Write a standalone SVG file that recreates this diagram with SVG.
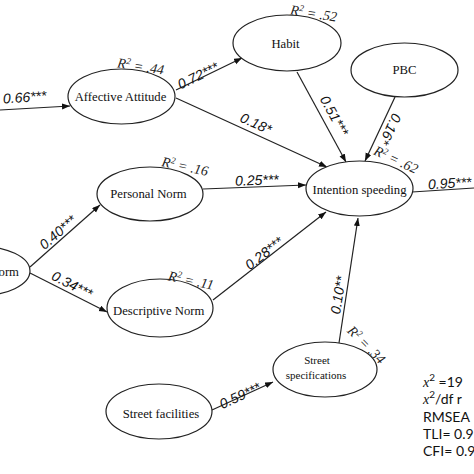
<svg xmlns="http://www.w3.org/2000/svg" width="474" height="474" viewBox="0 0 474 474">
<defs>
<marker id="ah" markerUnits="userSpaceOnUse" markerWidth="9" markerHeight="7" refX="8" refY="3" orient="auto">
<path d="M0,0 L8,3 L0,6 z" fill="#111"/>
</marker>
<style>
.n{fill:#fff;stroke:#222;stroke-width:1.2}
.t{font-family:"Liberation Serif",serif;font-size:12.7px;fill:#111;text-anchor:middle}
.e{stroke:#222;stroke-width:1.2;fill:none}
.a{marker-end:url(#ah)}
.l{font-family:"Liberation Sans",Arial,sans-serif;font-style:italic;font-size:14px;fill:#111;text-anchor:middle}
.r{font-family:"Liberation Serif",serif;font-style:italic;font-size:14px;fill:#222;text-anchor:middle}
.f{font-family:Lato,"Liberation Sans",sans-serif;font-size:14px;fill:#111}
</style>
</defs>
<rect width="474" height="474" fill="#fff"/>
<g id="connectors">
<line class="e a" x1="0" y1="110" x2="70" y2="106"/>
<line class="e a" x1="176" y1="90" x2="242" y2="58"/>
<line class="e a" x1="176" y1="98" x2="327" y2="167"/>
<line class="e a" x1="297" y1="72" x2="346" y2="162"/>
<line class="e a" x1="395" y1="97" x2="365" y2="161"/>
<line class="e a" x1="203" y1="189" x2="306" y2="185"/>
<line class="e a" x1="213" y1="300" x2="326" y2="212"/>
<line class="e a" x1="339" y1="343" x2="358" y2="218"/>
<line class="e a" x1="212" y1="410" x2="273" y2="382"/>
<line class="e a" x1="30" y1="267" x2="100" y2="205"/>
<line class="e a" x1="30" y1="273" x2="107" y2="312"/>
<line class="e" x1="412" y1="192" x2="474" y2="188"/>
<text class="l" transform="translate(25,102) rotate(-4)">0.66***</text>
<text class="l" transform="translate(200,80) rotate(-26)">0.72***</text>
<text class="l" transform="translate(254,128) rotate(24)">0.18*</text>
<text class="l" transform="translate(330,118) rotate(61)">0.51***</text>
<text class="l" transform="translate(386,127) rotate(115)">0.16*</text>
<text class="l" transform="translate(257,185) rotate(-2)">0.25***</text>
<text class="l" transform="translate(267,257) rotate(-38)">0.28***</text>
<text class="l" transform="translate(343,296) rotate(-81)">0.10**</text>
<text class="l" transform="translate(242,400) rotate(-25)">0.59***</text>
<text class="l" transform="translate(61,236) rotate(-41)">0.40***</text>
<text class="l" transform="translate(70,289) rotate(27)">0.34***</text>
<text class="l" transform="translate(450,188) rotate(-3)">0.95***</text>
</g>
<g id="node-norm">
<ellipse class="n" cx="-22" cy="271" rx="52" ry="25"/>
<text class="t" x="19" y="276" style="text-anchor:end">orm</text>
</g>
<g id="node-affective">
<ellipse class="n" cx="121.5" cy="96.5" rx="53.5" ry="27.5"/>
<text class="t" x="120.5" y="101">Affective Attitude</text>
<text class="r" transform="translate(140,71) rotate(9)">R<tspan dy="-5" font-size="9">2</tspan><tspan dy="5"> = .44</tspan></text>
</g>
<g id="node-habit">
<ellipse class="n" cx="287" cy="43" rx="54" ry="28"/>
<text class="t" x="285.5" y="48">Habit</text>
<text class="r" transform="translate(313,18) rotate(9)">R<tspan dy="-5" font-size="9">2</tspan><tspan dy="5"> = .52</tspan></text>
</g>
<g id="node-pbc">
<ellipse class="n" cx="404.5" cy="70" rx="53.5" ry="27"/>
<text class="t" x="404.5" y="74">PBC</text>
</g>
<g id="node-intention">
<ellipse class="n" cx="359.5" cy="188.5" rx="53.5" ry="27.5"/>
<text class="t" x="359.5" y="194">Intention speeding</text>
<text class="r" transform="translate(394,164) rotate(25)">R<tspan dy="-5" font-size="9">2</tspan><tspan dy="5"> = .62</tspan></text>
</g>
<g id="node-personal">
<ellipse class="n" cx="150" cy="194" rx="53" ry="27"/>
<text class="t" x="148.5" y="198">Personal Norm</text>
<text class="r" transform="translate(184,171) rotate(12)">R<tspan dy="-5" font-size="9">2</tspan><tspan dy="5"> = .16</tspan></text>
</g>
<g id="node-descriptive">
<ellipse class="n" cx="160" cy="308" rx="53" ry="29"/>
<text class="t" x="158.7" y="315">Descriptive Norm</text>
<text class="r" transform="translate(190,285) rotate(12)">R<tspan dy="-5" font-size="9">2</tspan><tspan dy="5"> = .11</tspan></text>
</g>
<g id="node-street-specifications">
<ellipse class="n" cx="325" cy="369.5" rx="52" ry="27.5"/>
<text class="t" x="317" y="364" style="font-size:11px">Street</text>
<text class="t" x="316" y="379" style="font-size:11px">specifications</text>
<text class="r" transform="translate(363,348) rotate(45)">R<tspan dy="-5" font-size="9">2</tspan><tspan dy="5"> = .34</tspan></text>
</g>
<g id="node-street-facilities">
<ellipse class="n" cx="159" cy="411.5" rx="53" ry="27.5"/>
<text class="t" x="161" y="418">Street facilities</text>
</g>
<g id="fit">
<text class="f" x="423" y="387"><tspan font-family="Liberation Serif" font-style="italic">x</tspan><tspan dy="-6" font-size="10">2</tspan><tspan dy="6"> =19</tspan></text>
<text class="f" x="423" y="404"><tspan font-family="Liberation Serif" font-style="italic">x</tspan><tspan dy="-6" font-size="10">2</tspan><tspan dy="6">/df r</tspan></text>
<text class="f" x="423" y="422">RMSEA</text>
<text class="f" x="423" y="439">TLI= 0.9</text>
<text class="f" x="423" y="456">CFI= 0.9</text>
</g>
</svg>
